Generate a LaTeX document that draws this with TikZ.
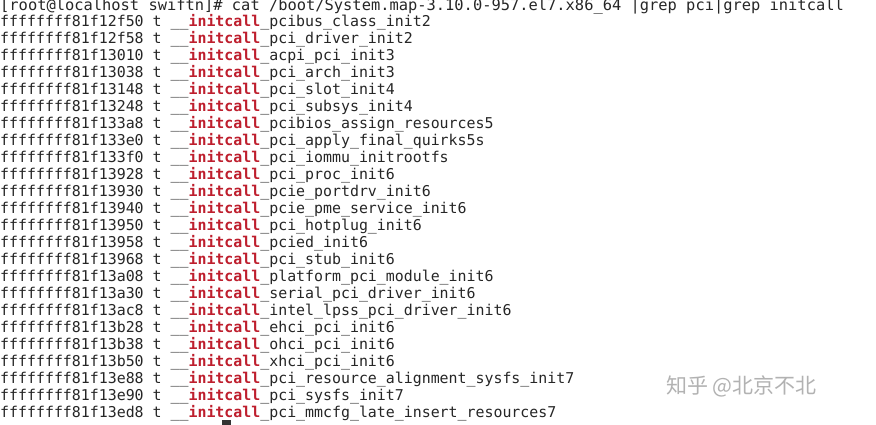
\documentclass[tikz,border=0pt]{standalone}
\usepackage{fontspec}
\setmonofont{DejaVu Sans Mono}
\newfontfamily\cjk{Noto Sans CJK SC}
\begin{document}
\begin{tikzpicture}[x=1pt,y=-1pt,
  ln/.style={anchor=west,inner sep=0pt,font=\ttfamily\fontsize{14.9}{17}\selectfont,text=black!85}]
\useasboundingbox[fill=white] (0,0) rectangle (876,425);
\newcommand\ic{\textcolor[RGB]{190,30,45}{\bfseries initcall}}
\node[ln,font=\ttfamily\fontsize{15.4}{17}\selectfont] (h) at (0,6) {[root@localhost swiftn]\# cat /boot/System.map-3.10.0-957.el7.x86\_64 |grep pci|grep initcall};
\foreach \a/\n [count=\i] in {
12f50/pcibus\_class\_init2,
12f58/pci\_driver\_init2,
13010/acpi\_pci\_init3,
13038/pci\_arch\_init3,
13148/pci\_slot\_init4,
13248/pci\_subsys\_init4,
133a8/pcibios\_assign\_resources5,
133e0/pci\_apply\_final\_quirks5s,
133f0/pci\_iommu\_initrootfs,
13928/pci\_proc\_init6,
13930/pcie\_portdrv\_init6,
13940/pcie\_pme\_service\_init6,
13950/pci\_hotplug\_init6,
13958/pcied\_init6,
13968/pci\_stub\_init6,
13a08/platform\_pci\_module\_init6,
13a30/serial\_pci\_driver\_init6,
13ac8/intel\_lpss\_pci\_driver\_init6,
13b28/ehci\_pci\_init6,
13b38/ohci\_pci\_init6,
13b50/xhci\_pci\_init6,
13e88/pci\_resource\_alignment\_sysfs\_init7,
13e90/pci\_sysfs\_init7,
13ed8/pci\_mmcfg\_late\_insert\_resources7}
  \node[ln] (l\i) at (0,{5+17*\i}) {ffffffff81f\a\ t \_\_\ic\_\n};
\node[anchor=west,inner sep=0pt,text=black!30,font=\cjk\fontsize{21}{21}\selectfont] (wm) at (666,386) {知乎 @北京不北};
\fill[black!80] (222,420) rectangle (231,425);
\end{tikzpicture}
\end{document}
